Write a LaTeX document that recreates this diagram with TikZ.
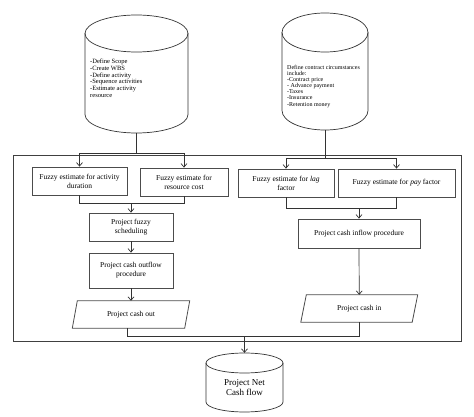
\documentclass[tikz,border=0pt]{standalone}
\usepackage{fontspec}
\setmainfont{Liberation Serif}
\usetikzlibrary{arrows.meta,calc}
\begin{document}
\begin{tikzpicture}[x=1pt,y=-1pt,
  line/.style={draw=black!80, line width=0.7pt},
  arr/.style={line, -{Straight Barb[length=3.5pt,width=6pt]}},
  box/.style={draw=black!70, line width=0.8pt, align=center, inner sep=1pt,
    font=\fontsize{7.5}{9}\selectfont},
  holder/.style={inner sep=0pt, minimum width=#1},
  cyltext/.style={align=left, inner sep=0pt, anchor=north west}]
\useasboundingbox (0,0) rectangle (474,417);

% outer frame
\node[draw=black!75, line width=0.8pt, minimum width=448pt, minimum height=186pt, inner sep=0pt] (frame) at (237,248) {};

% left cylinder
\node[holder=103pt, minimum height=118pt] (cylL) at (136.5,74) {};
\draw[line, fill=white] (136.5,33.5) ellipse [x radius=51.5pt, y radius=18.5pt];
\draw[line] (85,33.5) -- (85,114.5) arc[start angle=180, end angle=360, x radius=51.5pt, y radius=18.5pt] -- (188,33.5);
\node[cyltext, font=\fontsize{6.5}{6.7}\selectfont] (tL) at (90,59) {-Define Scope\\-Create WBS\\-Define activity\\-Sequence activities\\-Estimate activity\\resource};

% right cylinder
\node[holder=86pt, minimum height=117pt] (cylR) at (325,71.5) {};
\draw[line] (325,32.5) ellipse [x radius=43pt, y radius=19.5pt];
\draw[line] (282,32.5) -- (282,110.5) arc[start angle=180, end angle=360, x radius=43pt, y radius=19.5pt] -- (368,32.5);
\node[cyltext, font=\fontsize{6}{6.1}\selectfont] (tR) at (287,65) {Define contract circumstances\\include:\\-Contract price\\- Advance payment\\-Taxes\\-Insurance\\-Retention money};

% bottom cylinder
\node[holder=77pt, minimum height=59pt] (cylB) at (244.5,382.5) {};
\draw[line] (244.5,363) ellipse [x radius=38.5pt, y radius=10pt];
\draw[line] (206,363) -- (206,402) arc[start angle=180, end angle=360, x radius=38.5pt, y radius=10pt] -- (283,363);
\node[align=center, inner sep=0pt, font=\fontsize{9}{10}\selectfont] (tB) at (244.5,388) {Project Net\\Cash flow};

% boxes
\node[box, minimum width=95pt, minimum height=28pt] (b1) at (79.5,181) {Fuzzy estimate for activity\\duration};
\node[box, minimum width=88pt, minimum height=28pt] (b2) at (184,182) {Fuzzy estimate for\\resource cost};
\node[box, minimum width=96pt, minimum height=28pt] (b3) at (286,183) {Fuzzy estimate for \textit{lag}\\factor};
\node[box, minimum width=117pt, minimum height=28pt] (b4) at (396.5,183) {Fuzzy estimate for \textit{pay} factor};
\node[box, minimum width=84pt, minimum height=28pt] (b5) at (131,227) {Project fuzzy\\scheduling};
\node[box, minimum width=84pt, minimum height=35pt] (b6) at (131,270.5) {Project cash outflow\\procedure};
\node[box, minimum width=122pt, minimum height=29pt] (b7) at (359,233.5) {Project cash inflow procedure};

% parallelograms
\node[inner sep=0pt, minimum width=112pt, minimum height=27pt, font=\fontsize{7.5}{9}\selectfont] (out) at (131,314.5) {Project cash out};
\draw[line, draw=black!70, line width=0.8pt] ($(out.north west)+(2.5,0)$) -- ($(out.north east)+(2.5,0)$) -- ($(out.south east)+(-2.5,0)$) -- ($(out.south west)+(-2.5,0)$) -- cycle;
\node[inner sep=0pt, minimum width=111pt, minimum height=27pt, font=\fontsize{7.5}{9}\selectfont] (in) at (359.25,308.5) {Project cash in};
\draw[line, draw=black!70, line width=0.8pt] ($(in.north west)+(2.75,0)$) -- ($(in.north east)+(2.75,0)$) -- ($(in.south east)+(-2.75,0)$) -- ($(in.south west)+(-2.75,0)$) -- cycle;

% connectors top left
\draw[line] (cylL.south) -- ++(0,20) coordinate (jL);
\draw[arr] (jL) -| (b1.north);
\draw[arr] (jL) -| (b2.north);
% top right
\draw[line] (cylR.south) -- ++(0,28) coordinate (jR);
\draw[arr] (jR) -| (b3.north);
\draw[arr] (jR) -| (b4.north);
% merge left
\coordinate (mL) at (b5.north |- 0,203);
\draw[line] (b1.south) |- (mL);
\draw[line] (b2.south) |- (mL);
\draw[arr] (mL) -- (b5.north);
\draw[arr] (b5.south) -- (b6.north);
\draw[arr] (b6.south) -- (out.north);
% merge right
\coordinate (mR) at (b7.north |- 0,208);
\draw[line] (b3.south) |- (mR);
\draw[line] (b4.south) |- (mR);
\draw[arr] (mR) -- (b7.north);
\draw[arr] (b7.south) -- (in.north);
% bottom
\coordinate (jB) at (cylB.north |- 0,336);
\draw[line] ($(out.south)+(-4,0)$) |- (jB);
\draw[line] (in.south) |- (jB);
\draw[arr] (jB) -- (cylB.north);
\end{tikzpicture}
\end{document}
